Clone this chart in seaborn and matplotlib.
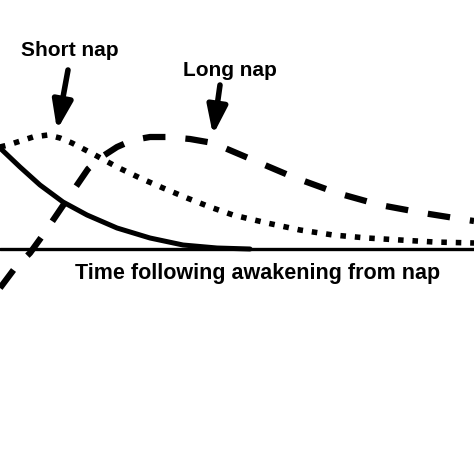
"""
Sleep inertia after short vs long nap - schematic curves
"""

import numpy as np
import pandas as pd
import matplotlib
matplotlib.use('Agg')
import matplotlib.pyplot as plt
import seaborn as sns

sns.set_style('white')
plt.rcParams['font.family'] = ['Liberation Sans', 'DejaVu Sans']

# 곡선 값 (시간, 수준) - 기준선 = 0
solid_t = [0, 20, 40, 63, 87, 117, 150, 183, 217, 250]
solid_v = [101, 82, 64, 47, 34, 21, 11, 4, 1, 0]

dotted_t = [0, 8, 33, 48, 60, 72, 95, 117, 140, 163, 187, 210, 233, 267, 300, 333, 367, 400, 434, 474]
dotted_v = [102, 104, 112, 114, 111, 106, 94, 82, 71, 61, 51, 42, 34, 26, 19, 14, 11, 9, 7, 6]

dashed_t = [0, 15, 30, 43, 62, 88, 100, 117, 133, 150, 168, 190, 213, 253, 293, 337, 380, 423, 467, 474]
dashed_v = [-39, -19, -4, 14, 42, 80, 91, 102, 109, 112, 112, 110, 106, 89, 72, 56, 44, 36, 29, 28]

labels = ['Short nap', 'Long nap']
label_pos = [(70, 199), (230, 179)]
arrow_from = [(68, 179), (220, 164)]
arrow_to = [(57, 119), (213, 114)]
xlabel = 'Time following awakening from nap'

fig = plt.figure(figsize=(4.74, 4.74), dpi=100)
ax = fig.add_axes([0, 0, 1, 1])

# 기준선
ax.axhline(0, color='black', linewidth=2.4)

sns.lineplot(x=solid_t, y=solid_v, ax=ax, color='black', linewidth=3.6, sort=False, estimator=None)
sns.lineplot(x=dotted_t, y=dotted_v, ax=ax, color='black', linewidth=4.0, sort=False, estimator=None,
             linestyle=(0, (1, 1.6)), dash_capstyle='butt')
sns.lineplot(x=dashed_t, y=dashed_v, ax=ax, color='black', linewidth=4.5, sort=False, estimator=None,
             linestyle=(0, (3.6, 3.2)), dash_capstyle='butt')

for lab, pos, a0, a1 in zip(labels, label_pos, arrow_from, arrow_to):
    ax.text(pos[0], pos[1], lab, ha='center', va='center', fontsize=15, fontweight='bold', color='black')
    ax.annotate('', xy=a1, xytext=a0,
                arrowprops=dict(arrowstyle='-|>,head_length=1.7,head_width=0.6',
                                lw=4, color='black', shrinkA=0, shrinkB=0))

ax.text(258, -25, xlabel, ha='center', va='center', fontsize=15.5, fontweight='bold', color='black')

ax.set_xlim(0, 474)
ax.set_ylim(-225, 249)
ax.axis('off')

plt.savefig('out.png', dpi=100)
plt.close()
